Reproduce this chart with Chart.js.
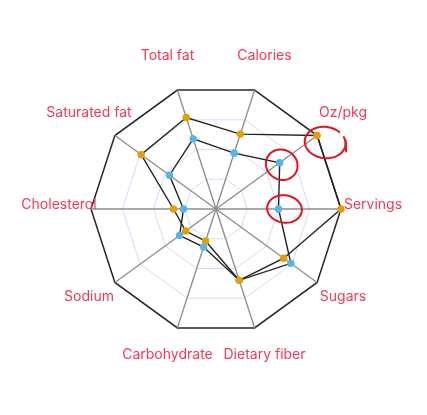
<!DOCTYPE html>
<html>
<head>
<meta charset="utf-8">
<script src="https://cdn.jsdelivr.net/npm/chart.js@4/dist/chart.umd.min.js"></script>
<style>
  html, body { margin: 0; padding: 0; background: #ffffff; }
  #wrap { position: relative; width: 427px; height: 415px; }
</style>
</head>
<body>
<div id="wrap"><canvas id="c"></canvas></div>
<script>
// ---- data ----
const categories = ["Calories", "Oz/pkg", "Servings", "Sugars", "Dietary fiber",
                    "Carbohydrate", "Sodium", "Cholesterol", "Saturated fat", "Total fat"];
const seriesOrange = [63, 100, 100, 67, 60, 27, 30, 34, 74, 77];
const seriesBlue   = [47, 63, 50, 74, 60, 32, 36, 26, 46, 59];
const scaleTicks   = [0, 25, 50, 75, 100];
// points highlighted by hand-drawn red loops: [datasetIndex, categoryIndex]
const highlighted  = [[0, 1], [1, 1], [1, 2]];

const LABEL_COLOR = "#f23a55";

const labelPlugin = {
  id: "centeredPointLabels",
  afterDraw(chart) {
    const r = chart.scales.r;
    const ctx = chart.ctx;
    ctx.save();
    ctx.font = "14px Inter, Roboto, 'Liberation Sans', sans-serif";
    ctx.fillStyle = LABEL_COLOR;
    ctx.textAlign = "center";
    ctx.textBaseline = "middle";
    categories.forEach((lab, i) => {
      const p = r.getPointPosition(i, r.drawingArea * 1.256);
      ctx.fillText(lab, p.x, p.y - 4);
    });
    ctx.restore();
  }
};

// loop shapes (offset of loop centre from the point, radii, start/end angle) for each highlight
const loopStyles = [
  {dx: 8, dy: 7, rx: 20, ry: 16, a0: -0.35, a1: 2 * Math.PI - 0.75, tail: true},
  {dx: 2, dy: 2, rx: 15.5, ry: 15.5, a0: -2.3, a1: 2 * Math.PI - 2.0, tail: false},
  {dx: 6, dy: 0, rx: 17, ry: 14, a0: -2.0, a1: 2 * Math.PI - 1.75, tail: false}
];

const redLoopPlugin = {
  id: "redLoops",
  afterDraw(chart) {
    const ctx = chart.ctx;
    ctx.save();
    ctx.strokeStyle = "#e5121c";
    ctx.lineWidth = 2;
    ctx.lineCap = "round";
    ctx.lineJoin = "round";
    highlighted.forEach(([ds, idx], k) => {
      const el = chart.getDatasetMeta(ds).data[idx];
      const s = loopStyles[k];
      const cx = el.x + s.dx, cy = el.y + s.dy;
      ctx.beginPath();
      const steps = 80;
      for (let j = 0; j <= steps; j++) {
        const t = s.a0 + (s.a1 - s.a0) * j / steps;
        const wob = 1 + 0.04 * Math.sin(t * 2 + 0.5);
        const x = cx + s.rx * wob * Math.cos(t);
        const y = cy + s.ry * wob * Math.sin(t);
        if (j === 0) ctx.moveTo(x, y); else ctx.lineTo(x, y);
      }
      ctx.stroke();
      if (s.tail) {
        ctx.beginPath();
        ctx.moveTo(cx + s.rx + 0.5, cy - 2);
        ctx.lineTo(cx + s.rx + 1, cy + 9);
        ctx.stroke();
      }
    });
    ctx.restore();
  }
};

new Chart(document.getElementById("c"), {
  type: "radar",
  data: {
    labels: categories,
    datasets: [
      {
        data: seriesOrange,
        borderColor: "#222222",
        borderWidth: 1.4,
        backgroundColor: "rgba(0,0,0,0)",
        fill: false,
        pointBackgroundColor: "#e69f00",
        pointBorderWidth: 0,
        pointRadius: 3.7,
        tension: 0
      },
      {
        data: seriesBlue,
        borderColor: "#222222",
        borderWidth: 1.4,
        backgroundColor: "rgba(0,0,0,0)",
        fill: false,
        pointBackgroundColor: "#56b4e9",
        pointBorderWidth: 0,
        pointRadius: 3.7,
        tension: 0
      }
    ]
  },
  options: {
    responsive: true,
    maintainAspectRatio: false,
    animation: false,
    layout: { padding: { left: 91, right: 86, top: 84, bottom: 81 } },
    plugins: { legend: { display: false }, tooltip: { enabled: false } },
    scales: {
      r: {
        min: scaleTicks[0],
        max: scaleTicks[scaleTicks.length - 1],
        startAngle: 18,
        ticks: { display: false, stepSize: scaleTicks[1] - scaleTicks[0] },
        pointLabels: { display: false },
        angleLines: { color: "#8e8e8e", lineWidth: 1.4 },
        grid: {
          color: (c) => (c.index === scaleTicks.length - 1 ? "#262626" : "#cddffa"),
          lineWidth: (c) => (c.index === scaleTicks.length - 1 ? 1.5 : 1)
        }
      }
    }
  },
  plugins: [labelPlugin, redLoopPlugin]
});
</script>
</body>
</html>
